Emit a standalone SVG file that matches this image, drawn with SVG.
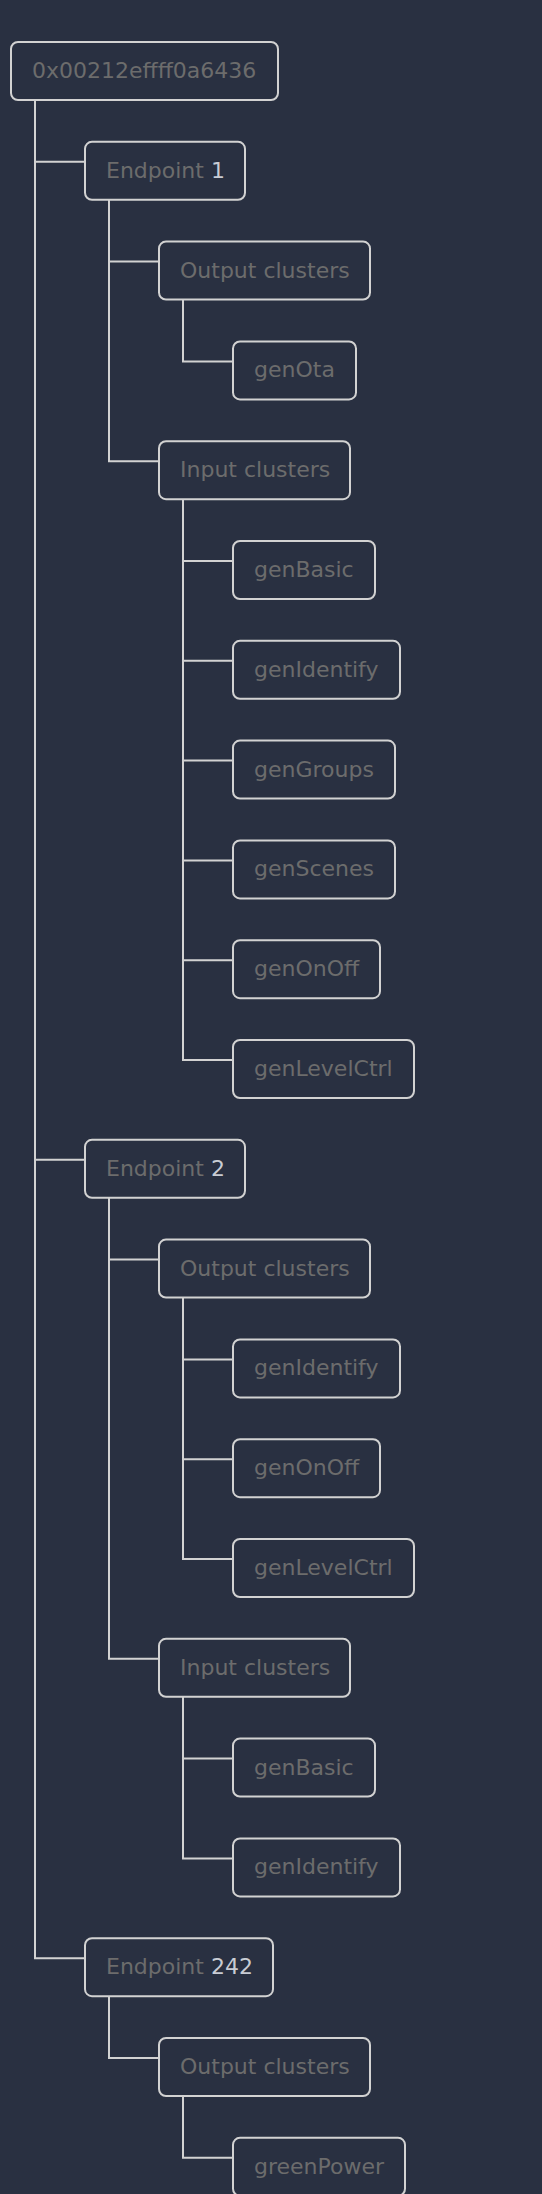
<svg xmlns="http://www.w3.org/2000/svg" width="542" height="2194" viewBox="0 0 542 2194">
<style>
.bg{fill:#293041}
.n rect{fill:#293041;stroke:#d2d2d2;stroke-width:2}
.n text{font-family:"DejaVu Sans",sans-serif;font-size:22px;fill:#6c6c6c}
.v{fill:#c8ccd4}
#connectors path{fill:none;stroke:#d2d2d2;stroke-width:2}
</style>
<rect class="bg" x="0" y="0" width="542" height="2194"/>
<g id="connectors">
<path d="M35 100V161.8H85"/>
<path d="M35 100V1159.8H85"/>
<path d="M35 100V1958.2H85"/>
<path d="M109 199.8V261.6H159"/>
<path d="M109 199.8V461.2H159"/>
<path d="M183 299.6V361.4H233"/>
<path d="M183 499.2V561H233"/>
<path d="M183 499.2V660.8H233"/>
<path d="M183 499.2V760.6H233"/>
<path d="M183 499.2V860.4H233"/>
<path d="M183 499.2V960.2H233"/>
<path d="M183 499.2V1060H233"/>
<path d="M109 1197.8V1259.6H159"/>
<path d="M109 1197.8V1658.8H159"/>
<path d="M183 1297.6V1359.4H233"/>
<path d="M183 1297.6V1459.2H233"/>
<path d="M183 1297.6V1559H233"/>
<path d="M183 1696.8V1758.6H233"/>
<path d="M183 1696.8V1858.4H233"/>
<path d="M109 1996.2V2058H159"/>
<path d="M183 2096V2157.8H233"/>
</g>
<g id="root" class="n"><rect x="11" y="42" width="267" height="58" rx="7"/><text x="32" y="78">0x00212effff0a6436</text></g>
<g id="ep1" class="n"><rect x="85" y="141.8" width="160" height="58" rx="7"/><text x="106" y="177.8">Endpoint <tspan class="v">1</tspan></text></g>
<g id="ep1-out" class="n"><rect x="159" y="241.6" width="211" height="58" rx="7"/><text x="180" y="277.6">Output clusters</text></g>
<g id="ep1-out-genOta" class="n"><rect x="233" y="341.4" width="123" height="58" rx="7"/><text x="254" y="377.4">genOta</text></g>
<g id="ep1-in" class="n"><rect x="159" y="441.2" width="191" height="58" rx="7"/><text x="180" y="477.2">Input clusters</text></g>
<g id="ep1-in-genBasic" class="n"><rect x="233" y="541" width="142" height="58" rx="7"/><text x="254" y="577">genBasic</text></g>
<g id="ep1-in-genIdentify" class="n"><rect x="233" y="640.8" width="167" height="58" rx="7"/><text x="254" y="676.8">genIdentify</text></g>
<g id="ep1-in-genGroups" class="n"><rect x="233" y="740.6" width="162" height="58" rx="7"/><text x="254" y="776.6">genGroups</text></g>
<g id="ep1-in-genScenes" class="n"><rect x="233" y="840.4" width="162" height="58" rx="7"/><text x="254" y="876.4">genScenes</text></g>
<g id="ep1-in-genOnOff" class="n"><rect x="233" y="940.2" width="147" height="58" rx="7"/><text x="254" y="976.2">genOnOff</text></g>
<g id="ep1-in-genLevelCtrl" class="n"><rect x="233" y="1040" width="181" height="58" rx="7"/><text x="254" y="1076">genLevelCtrl</text></g>
<g id="ep2" class="n"><rect x="85" y="1139.8" width="160" height="58" rx="7"/><text x="106" y="1175.8">Endpoint <tspan class="v">2</tspan></text></g>
<g id="ep2-out" class="n"><rect x="159" y="1239.6" width="211" height="58" rx="7"/><text x="180" y="1275.6">Output clusters</text></g>
<g id="ep2-out-genIdentify" class="n"><rect x="233" y="1339.4" width="167" height="58" rx="7"/><text x="254" y="1375.4">genIdentify</text></g>
<g id="ep2-out-genOnOff" class="n"><rect x="233" y="1439.2" width="147" height="58" rx="7"/><text x="254" y="1475.2">genOnOff</text></g>
<g id="ep2-out-genLevelCtrl" class="n"><rect x="233" y="1539" width="181" height="58" rx="7"/><text x="254" y="1575">genLevelCtrl</text></g>
<g id="ep2-in" class="n"><rect x="159" y="1638.8" width="191" height="58" rx="7"/><text x="180" y="1674.8">Input clusters</text></g>
<g id="ep2-in-genBasic" class="n"><rect x="233" y="1738.6" width="142" height="58" rx="7"/><text x="254" y="1774.6">genBasic</text></g>
<g id="ep2-in-genIdentify" class="n"><rect x="233" y="1838.4" width="167" height="58" rx="7"/><text x="254" y="1874.4">genIdentify</text></g>
<g id="ep242" class="n"><rect x="85" y="1938.2" width="188" height="58" rx="7"/><text x="106" y="1974.2">Endpoint <tspan class="v">242</tspan></text></g>
<g id="ep242-out" class="n"><rect x="159" y="2038" width="211" height="58" rx="7"/><text x="180" y="2074">Output clusters</text></g>
<g id="ep242-out-greenPower" class="n"><rect x="233" y="2137.8" width="172" height="58" rx="7"/><text x="254" y="2173.8">greenPower</text></g>
</svg>
